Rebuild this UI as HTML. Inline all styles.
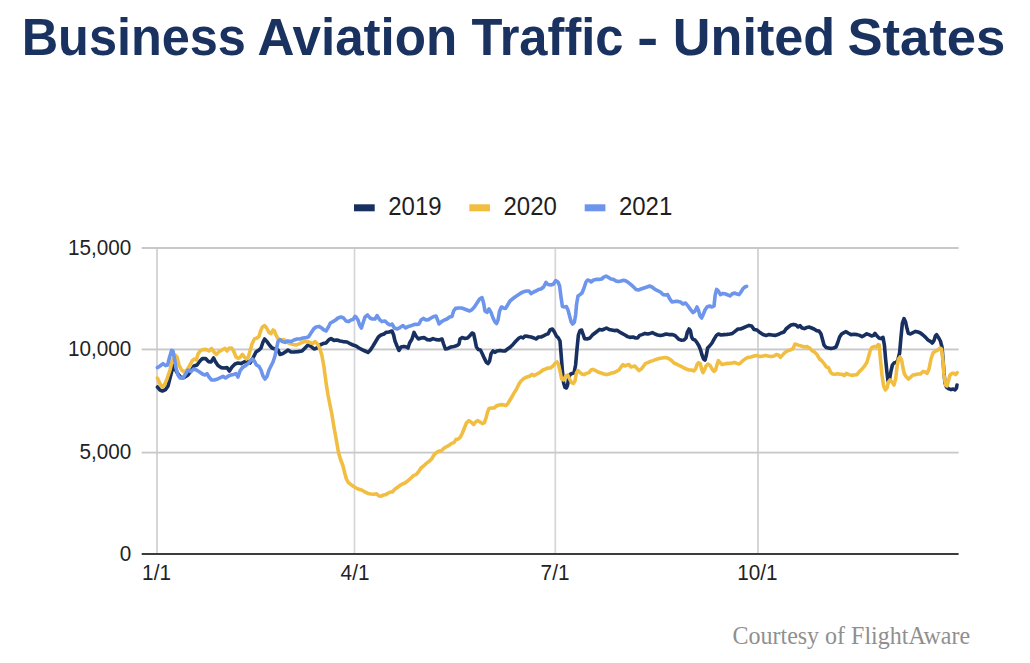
<!DOCTYPE html>
<html><head><meta charset="utf-8"><title>Business Aviation Traffic - United States</title>
<style>
html,body{margin:0;padding:0;background:#fff;}
body{width:1030px;height:663px;overflow:hidden;position:relative;font-family:"Liberation Sans",sans-serif;}
svg{position:absolute;left:0;top:0;}
text{font-family:"Liberation Sans",sans-serif;}
.title{font-weight:bold;font-size:50px;fill:#1a3260;}
.ax{font-size:20.7px;fill:#222;}
.lg{font-size:24px;fill:#1f1f1f;}
.cap{font-family:"Liberation Serif",serif;font-size:24px;fill:#8f8f8f;}
.ln{fill:none;stroke-width:3.6;stroke-linejoin:round;stroke-linecap:round;}
</style></head><body>
<svg width="1030" height="663" viewBox="0 0 1030 663">
<rect width="1030" height="663" fill="#fff"/>
<text class="title" transform="translate(21.67,54.7) scale(1.0088,1.0450)">Business</text>
<text class="title" transform="translate(257.47,54.7) scale(1.0230,1.0450)">Aviation</text>
<text class="title" transform="translate(471.49,54.7) scale(1.0135,1.0450)">Traffic</text>
<text class="title" transform="translate(637.04,54.7) scale(1.2800,1.0450)">-</text>
<text class="title" transform="translate(672.87,54.7) scale(1.0443,1.0450)">United</text>
<text class="title" transform="translate(847.42,54.7) scale(1.0526,1.0450)">States</text>
<!-- legend -->
<rect x="354" y="204.3" width="20.7" height="7" fill="#17305f"/>
<text class="lg" transform="translate(388.2,215.2) scale(1,1.04)">2019</text>
<rect x="469.3" y="204.3" width="20.7" height="7" fill="#f1be42"/>
<text class="lg" transform="translate(503.5,215.2) scale(1,1.04)">2020</text>
<rect x="584.7" y="204.3" width="20.7" height="7" fill="#6d95ec"/>
<text class="lg" transform="translate(618.9,215.2) scale(1,1.04)">2021</text>
<!-- grid -->
<g fill="#d6d6da">
<rect x="156" y="248" width="2" height="305"/>
<rect x="353.65" y="248" width="1.7" height="305"/>
<rect x="554.45" y="248" width="1.7" height="305"/>
<rect x="757" y="248" width="2" height="305"/>
</g>
<g fill="#c8c8c8">
<rect x="141.7" y="247" width="816.9" height="2"/>
<rect x="141.7" y="348.5" width="816.9" height="1.9"/>
<rect x="141.7" y="451.7" width="816.9" height="1.8"/>
</g>
<rect x="141.7" y="553" width="816.9" height="2" fill="#3c3c3c"/>
<!-- y labels -->
<g class="ax" text-anchor="end">
<text transform="translate(131.2,254.7) scale(1,1.045)">15,000</text>
<text transform="translate(131.2,356.3) scale(1,1.045)">10,000</text>
<text transform="translate(131.2,459.4) scale(1,1.045)">5,000</text>
<text transform="translate(131.2,560.5) scale(1,1.045)">0</text>
</g>
<g class="ax" text-anchor="middle">
<text transform="translate(156.5,580.4) scale(1,1.045)">1/1</text>
<text transform="translate(355,580.4) scale(1,1.045)">4/1</text>
<text transform="translate(555,580.4) scale(1,1.045)">7/1</text>
<text transform="translate(757.5,580.4) scale(1,1.045)">10/1</text>
</g>
<path class="ln" stroke="#17305f" d="M157.4,387.0 L160.0,390.0 L162.4,391.0 L165.6,389.6 L168.0,386.0 L170.0,378.0 L172.4,369.0 L173.2,365.6 L175.0,369.0 L178.0,374.0 L181.0,377.6 L184.0,377.6 L188.0,375.0 L191.0,371.0 L194.0,366.0 L197.0,365.0 L200.0,361.0 L202.4,358.6 L205.6,358.6 L208.4,361.6 L211.0,362.0 L213.6,358.0 L215.6,362.0 L218.0,365.6 L221.0,367.6 L224.0,368.0 L227.0,367.6 L229.4,371.0 L232.0,367.0 L235.0,364.0 L238.0,363.0 L241.0,363.6 L244.0,362.0 L247.0,361.0 L250.0,363.0 L253.0,358.0 L256.0,352.0 L259.0,350.0 L261.0,348.0 L263.0,342.0 L264.6,339.0 L267.0,341.6 L269.4,345.0 L272.0,348.0 L275.0,349.0 L278.0,350.0 L280.0,354.4 L283.0,353.6 L286.0,351.6 L288.0,350.0 L291.0,352.0 L294.0,352.0 L298.0,351.6 L302.0,351.0 L305.0,348.0 L308.0,345.0 L311.0,346.4 L314.0,349.0 L317.0,348.0 L320.0,345.0 L323.0,343.6 L326.0,343.0 L329.0,339.6 L331.0,338.6 L334.0,340.4 L337.0,340.0 L340.0,341.0 L343.0,341.6 L347.0,342.0 L350.0,343.6 L353.0,345.0 L356.0,346.0 L359.0,348.0 L362.0,349.6 L365.0,351.0 L368.0,352.4 L370.4,350.0 L373.0,346.0 L376.0,341.0 L378.4,337.0 L381.0,335.0 L384.0,334.0 L386.0,332.4 L389.0,332.0 L392.0,331.0 L393.6,335.0 L395.0,341.0 L397.0,346.0 L399.0,350.4 L401.0,347.0 L404.0,346.4 L406.4,347.0 L408.0,348.0 L409.6,343.0 L412.0,339.0 L414.0,332.4 L416.0,336.0 L418.4,339.0 L421.0,338.0 L424.0,337.6 L427.0,339.6 L430.0,340.0 L433.0,338.6 L436.0,339.6 L439.0,340.0 L442.0,339.0 L443.6,344.0 L445.4,349.0 L448.0,348.4 L451.0,347.0 L454.0,346.4 L457.0,345.6 L459.0,344.0 L460.0,339.0 L462.0,337.6 L465.0,338.4 L467.6,338.0 L470.0,335.6 L472.0,333.0 L473.6,333.6 L475.0,340.0 L476.4,347.0 L478.4,349.6 L480.4,350.0 L482.4,354.0 L484.4,358.4 L486.4,362.4 L488.0,363.6 L489.6,361.0 L491.0,354.0 L493.0,351.0 L495.0,352.4 L497.0,351.0 L500.0,350.4 L503.0,351.0 L505.0,351.0 L507.6,349.0 L510.4,347.0 L513.0,344.4 L516.0,341.0 L519.0,338.0 L521.0,337.0 L523.0,338.0 L525.0,336.0 L528.0,336.4 L531.0,337.0 L534.0,338.0 L536.0,339.0 L538.4,337.0 L541.0,337.0 L544.0,335.6 L547.0,334.0 L548.0,334.0 L550.0,330.0 L552.4,329.0 L554.4,332.0 L556.4,336.0 L558.4,338.0 L560.0,341.0 L561.0,353.0 L562.4,371.0 L563.6,383.0 L565.0,387.4 L566.4,388.0 L567.6,385.0 L568.6,378.0 L570.0,374.6 L572.0,373.4 L574.0,373.0 L575.6,365.0 L577.0,349.0 L578.4,335.0 L580.0,330.6 L581.6,330.0 L583.0,334.0 L584.6,338.6 L587.0,339.0 L590.0,338.0 L592.4,335.0 L595.0,333.0 L597.6,331.0 L599.6,329.4 L602.0,330.0 L604.4,329.0 L606.4,328.0 L609.0,329.4 L611.6,330.0 L614.4,330.6 L617.0,330.2 L619.6,332.0 L622.0,333.4 L625.0,335.0 L627.6,336.6 L630.0,337.4 L633.0,337.0 L635.6,338.0 L637.6,338.0 L639.6,335.4 L642.0,334.6 L645.0,333.4 L647.6,334.0 L650.0,333.4 L652.4,332.6 L655.0,334.0 L657.6,335.0 L660.4,335.6 L663.0,335.0 L666.0,334.0 L669.0,334.6 L672.0,334.6 L675.0,335.4 L677.0,337.4 L679.0,339.4 L681.6,340.2 L684.0,340.0 L686.0,338.0 L687.4,332.0 L689.0,329.0 L690.4,330.6 L691.6,337.0 L693.0,339.4 L695.0,340.0 L697.0,342.6 L699.0,346.0 L700.6,350.0 L702.0,355.0 L703.6,359.0 L705.0,360.0 L706.4,355.0 L707.6,348.0 L709.6,346.0 L712.0,343.0 L714.4,338.6 L716.4,335.4 L718.4,334.0 L721.0,335.0 L724.0,334.6 L727.0,334.4 L730.0,334.0 L732.4,333.4 L735.0,331.4 L738.0,329.0 L740.4,329.0 L743.0,328.0 L746.0,326.6 L749.0,325.4 L751.6,326.0 L754.0,329.4 L757.0,330.0 L760.0,332.6 L763.0,334.6 L766.0,335.4 L769.0,334.6 L772.0,335.0 L775.0,335.4 L778.0,334.6 L781.0,333.0 L784.0,332.0 L786.0,329.0 L788.4,327.0 L791.0,325.0 L793.6,324.4 L796.0,325.0 L798.0,327.0 L800.0,325.6 L802.0,328.0 L804.4,328.6 L807.0,327.4 L809.0,327.0 L811.6,328.0 L814.0,329.0 L816.4,330.6 L819.0,331.0 L821.0,334.0 L822.4,339.0 L824.0,345.0 L826.0,347.4 L828.4,348.0 L831.0,348.6 L833.6,348.0 L836.0,347.0 L837.6,343.0 L839.6,337.0 L841.6,334.0 L844.0,332.6 L846.0,331.6 L848.0,333.0 L851.0,334.6 L854.0,334.2 L857.0,334.6 L859.6,335.4 L862.0,336.6 L864.4,335.4 L866.4,333.8 L869.0,334.6 L871.6,336.0 L873.6,335.4 L875.0,333.4 L877.0,336.0 L879.0,338.0 L881.0,338.6 L883.0,337.4 L884.4,345.0 L885.6,359.0 L886.8,371.0 L888.0,381.0 L889.6,379.0 L891.0,371.0 L892.4,365.0 L894.0,363.0 L895.6,362.6 L897.6,361.0 L899.6,353.0 L901.0,337.0 L902.4,323.0 L904.0,318.6 L905.6,322.0 L907.0,328.6 L908.4,333.4 L910.4,334.0 L913.0,332.6 L915.6,331.4 L918.0,332.0 L920.4,333.0 L923.0,335.0 L925.6,337.4 L928.0,340.0 L930.4,341.4 L932.4,343.0 L934.0,340.6 L935.4,336.0 L936.6,334.6 L938.4,337.4 L940.4,341.0 L942.0,347.0 L943.0,359.0 L944.0,373.0 L945.0,383.0 L946.4,387.0 L948.4,388.6 L951.0,389.6 L953.2,389.0 L955.0,390.0 L956.4,388.2 L957.0,385.0"/>
<path class="ln" stroke="#f1be42" d="M157.4,378.0 L159.6,383.0 L162.0,387.0 L164.4,385.0 L167.0,379.0 L170.0,370.0 L172.4,360.0 L175.0,355.0 L177.0,357.0 L179.0,365.0 L181.6,370.0 L184.4,372.0 L187.0,370.0 L190.0,365.0 L192.4,360.4 L194.4,359.0 L196.4,360.0 L198.0,354.0 L200.4,350.6 L203.0,349.6 L206.0,349.4 L209.0,351.0 L211.6,348.4 L214.0,352.0 L216.4,354.4 L219.0,351.6 L222.0,350.0 L225.0,348.4 L227.0,351.0 L229.0,348.4 L231.6,348.0 L233.6,351.0 L236.0,357.0 L238.4,358.4 L240.4,357.0 L242.4,354.4 L244.4,357.0 L246.4,359.0 L248.4,357.0 L250.0,351.0 L252.0,344.0 L254.4,339.0 L257.0,338.0 L259.0,336.4 L260.6,331.0 L262.4,327.0 L264.6,325.6 L266.6,328.0 L269.0,332.4 L271.0,333.6 L273.0,330.0 L274.4,331.0 L276.0,335.0 L278.0,339.0 L281.0,340.0 L284.0,339.6 L287.0,342.0 L290.0,343.6 L293.0,344.4 L296.0,345.0 L299.0,344.0 L302.0,342.4 L305.0,341.6 L308.0,341.6 L311.0,343.0 L313.0,343.6 L315.0,341.6 L317.6,344.0 L320.0,349.0 L322.0,356.0 L324.0,367.0 L325.0,375.0 L326.4,385.0 L328.0,395.0 L330.0,405.0 L332.0,415.0 L333.6,425.0 L335.4,435.0 L337.0,444.0 L338.6,453.0 L340.4,459.0 L343.0,466.0 L345.0,474.0 L346.4,479.0 L348.4,482.6 L351.0,484.6 L354.4,487.0 L358.0,489.0 L361.6,490.0 L365.0,492.0 L368.0,493.4 L371.0,494.0 L374.0,494.2 L376.6,493.8 L379.0,496.0 L381.0,496.2 L383.6,495.0 L386.0,494.6 L388.4,493.0 L390.4,492.0 L392.4,492.0 L395.0,489.0 L397.6,487.4 L400.0,485.4 L402.4,484.0 L405.0,483.0 L408.0,480.6 L411.0,478.0 L413.6,475.4 L416.0,474.6 L418.4,472.0 L421.0,468.0 L423.6,466.0 L426.4,463.4 L429.0,461.4 L431.6,459.0 L434.0,455.0 L436.4,452.6 L439.0,451.0 L441.0,451.0 L443.6,448.6 L446.0,447.0 L449.0,445.4 L451.6,443.4 L454.0,442.6 L456.0,439.4 L458.4,439.0 L460.4,437.0 L462.4,433.0 L464.4,428.0 L466.4,423.0 L469.0,420.6 L471.0,422.0 L473.6,424.6 L475.6,422.0 L477.6,420.6 L480.0,422.0 L482.4,423.6 L484.4,422.6 L486.0,418.0 L487.6,412.0 L489.0,408.6 L491.6,408.0 L494.0,408.0 L496.4,406.0 L499.0,405.0 L501.6,404.6 L504.0,405.0 L506.0,405.4 L508.0,403.4 L510.0,400.0 L512.0,396.6 L514.0,393.0 L516.0,390.0 L517.0,388.0 L519.0,384.0 L521.0,381.0 L524.0,378.4 L527.0,377.0 L530.0,376.0 L532.0,374.4 L534.0,375.6 L537.0,374.0 L540.0,372.4 L543.0,370.0 L545.6,369.0 L548.0,368.0 L550.4,368.0 L553.0,366.0 L555.0,363.4 L557.0,362.0 L558.4,364.0 L560.0,371.0 L561.6,379.0 L563.6,380.0 L565.6,376.0 L567.6,375.0 L569.6,379.0 L571.6,382.6 L573.4,383.4 L575.0,381.0 L576.4,373.0 L578.0,370.6 L580.0,372.6 L582.0,374.0 L584.0,374.6 L586.4,373.4 L589.0,372.6 L591.0,370.0 L593.0,369.4 L595.6,370.6 L598.0,372.0 L601.0,373.0 L604.0,374.0 L606.4,374.6 L609.0,374.0 L611.6,373.0 L614.0,372.6 L616.4,371.4 L619.0,370.0 L621.0,367.0 L623.0,364.6 L625.0,366.0 L627.0,365.0 L629.0,364.6 L631.0,367.0 L633.0,366.6 L635.0,366.0 L637.0,368.6 L639.0,370.6 L641.6,368.6 L643.6,366.0 L645.6,363.4 L648.0,362.6 L650.4,361.4 L653.0,360.6 L656.0,359.4 L659.0,358.6 L662.0,358.0 L665.0,357.4 L667.6,358.0 L670.0,359.4 L672.0,361.0 L674.0,363.0 L676.4,364.0 L679.0,365.4 L681.6,366.6 L684.0,368.0 L686.4,369.0 L689.0,370.0 L691.6,370.0 L694.0,371.0 L695.6,369.0 L697.0,364.6 L698.6,362.6 L700.4,364.0 L701.6,369.0 L703.0,372.6 L704.4,370.0 L706.0,366.0 L708.0,364.0 L710.0,365.4 L712.0,369.0 L714.0,371.4 L715.6,370.0 L717.0,364.6 L718.4,360.6 L720.0,362.6 L722.0,364.6 L724.4,364.0 L727.0,363.4 L729.6,363.4 L732.0,363.0 L734.4,362.4 L737.0,363.4 L739.0,364.0 L741.0,362.6 L743.0,360.6 L745.6,358.6 L748.0,357.4 L751.0,357.0 L754.0,356.0 L757.0,355.4 L760.0,356.6 L763.0,356.0 L765.6,355.4 L768.0,356.0 L771.0,356.6 L774.0,356.0 L776.4,354.6 L778.4,355.0 L780.4,357.4 L783.0,354.6 L785.6,352.0 L788.0,350.6 L790.4,350.0 L793.0,348.6 L795.0,344.0 L797.0,344.6 L799.6,345.6 L802.0,346.2 L804.4,347.0 L807.0,346.6 L809.6,348.0 L812.0,350.6 L814.4,352.0 L817.0,354.6 L819.6,359.0 L822.0,361.0 L824.4,364.0 L826.4,367.0 L828.4,367.4 L830.4,372.0 L832.4,374.0 L835.0,374.2 L837.6,373.8 L840.0,374.2 L842.4,374.4 L844.4,375.6 L846.4,373.4 L849.0,374.6 L851.6,375.4 L854.0,375.0 L857.0,374.6 L859.0,372.0 L861.0,370.0 L863.0,368.0 L865.0,365.4 L867.0,362.0 L869.0,355.0 L870.4,350.0 L872.0,347.4 L874.0,346.6 L876.0,347.0 L878.0,344.6 L879.2,345.0 L880.4,359.0 L882.0,375.0 L883.6,386.0 L885.4,390.0 L887.0,388.0 L888.4,382.0 L890.0,380.0 L892.0,382.0 L894.0,385.0 L895.6,379.0 L897.0,367.0 L898.4,359.0 L900.0,357.0 L901.6,360.0 L903.0,368.0 L904.4,374.0 L906.4,377.0 L908.4,379.0 L910.4,377.4 L913.0,375.0 L915.6,374.6 L918.0,374.0 L920.4,374.0 L923.0,371.4 L925.0,372.0 L927.0,373.4 L929.0,369.0 L931.0,359.0 L933.0,353.0 L935.6,351.0 L938.0,350.0 L940.0,348.0 L941.6,349.0 L943.0,361.0 L944.0,375.0 L945.6,385.0 L947.0,386.0 L948.4,381.0 L950.0,375.0 L952.0,373.4 L954.0,373.4 L955.6,374.6 L957.2,372.6"/>
<path class="ln" stroke="#6d95ec" d="M157.4,367.6 L160.0,366.0 L163.0,363.6 L165.6,365.6 L167.6,365.0 L169.6,357.0 L171.6,350.4 L173.0,351.0 L174.4,358.0 L176.0,368.0 L178.0,375.0 L180.0,378.0 L183.0,378.0 L185.6,374.0 L188.0,370.0 L191.0,371.6 L193.6,369.0 L196.4,370.0 L199.6,372.0 L202.4,374.0 L205.0,375.0 L207.0,373.6 L209.0,377.0 L211.6,380.0 L214.4,380.0 L217.6,379.0 L220.4,377.6 L223.0,376.4 L225.6,378.0 L228.4,376.0 L231.0,375.0 L233.6,374.4 L236.0,373.6 L238.0,377.0 L240.0,371.0 L242.4,367.6 L245.0,366.0 L248.0,363.6 L250.0,361.0 L252.4,359.0 L254.4,361.0 L256.4,365.0 L259.0,366.4 L261.0,370.0 L263.0,376.0 L265.0,379.0 L267.0,376.4 L269.0,370.0 L271.0,366.0 L273.0,362.0 L275.0,356.0 L276.4,349.0 L278.0,341.6 L280.0,339.6 L282.4,341.6 L285.0,342.4 L288.0,341.0 L291.0,341.6 L294.0,340.0 L297.0,339.0 L300.0,339.0 L303.0,338.0 L306.0,337.6 L308.4,337.0 L311.0,333.0 L313.6,329.0 L316.0,327.0 L319.0,326.4 L321.6,328.0 L324.0,330.0 L326.0,331.0 L328.4,327.0 L330.4,323.0 L333.0,321.6 L335.6,320.0 L338.0,318.0 L341.0,317.0 L343.6,318.0 L346.0,321.0 L348.4,321.6 L351.0,320.0 L353.0,319.6 L355.0,316.4 L356.0,317.0 L358.0,320.0 L359.6,325.0 L361.4,328.0 L363.0,323.0 L365.0,317.0 L367.6,315.0 L370.0,318.0 L372.4,319.0 L375.0,319.0 L377.0,315.6 L379.6,319.6 L382.0,321.6 L385.0,321.0 L387.6,323.6 L390.0,325.0 L392.0,324.0 L394.4,328.0 L397.0,329.0 L400.0,327.6 L403.0,325.6 L405.6,328.0 L408.4,326.4 L411.6,325.6 L414.4,324.4 L417.0,324.4 L419.0,324.0 L421.0,320.0 L423.6,318.4 L426.0,320.0 L428.4,319.6 L431.0,318.0 L434.0,316.4 L436.0,316.0 L437.6,320.0 L439.0,324.0 L441.6,321.6 L444.4,320.0 L447.0,319.0 L449.6,317.0 L452.0,316.4 L453.6,311.0 L455.6,308.4 L458.4,308.0 L461.6,308.0 L464.4,309.0 L467.0,310.0 L469.6,311.0 L472.0,309.6 L474.4,307.0 L477.0,303.0 L479.6,299.0 L482.0,297.6 L483.6,303.0 L485.0,311.0 L487.0,312.4 L489.0,309.0 L491.0,312.4 L493.0,318.0 L495.0,322.0 L496.6,323.6 L498.0,320.0 L499.6,311.0 L501.4,307.0 L503.6,308.0 L505.6,308.4 L507.6,305.0 L510.0,301.0 L512.4,299.0 L515.0,297.0 L518.0,295.0 L521.0,293.0 L524.0,291.6 L527.0,291.0 L529.0,291.0 L531.0,293.6 L533.6,292.0 L536.0,291.0 L538.4,289.6 L541.0,289.0 L543.6,287.0 L546.0,282.4 L548.0,284.4 L551.0,285.0 L553.6,284.0 L555.6,280.6 L558.0,282.0 L559.6,286.0 L561.0,297.0 L562.4,306.6 L564.4,307.0 L566.4,306.6 L568.0,310.0 L569.6,316.0 L571.2,322.0 L572.6,324.0 L574.4,322.0 L575.6,315.0 L576.6,304.0 L578.0,296.0 L580.0,294.6 L582.0,293.0 L584.0,288.0 L586.0,282.0 L587.6,280.0 L589.6,280.6 L591.0,282.0 L593.6,280.0 L596.0,279.4 L599.0,279.4 L601.6,279.0 L604.0,277.0 L606.0,276.0 L608.4,277.4 L611.0,279.0 L613.6,279.4 L616.0,281.0 L618.4,281.6 L621.0,281.0 L623.6,280.2 L626.0,281.0 L628.4,282.6 L631.0,284.6 L633.6,287.0 L636.0,289.4 L638.4,290.0 L641.0,289.0 L644.0,288.0 L647.0,287.0 L649.6,286.0 L652.0,287.0 L655.0,289.4 L657.6,290.6 L660.4,292.0 L663.0,294.6 L665.6,295.0 L667.6,294.6 L669.6,298.6 L672.0,302.0 L675.0,301.4 L678.0,301.4 L680.4,302.0 L683.0,304.0 L685.6,303.0 L688.0,306.0 L690.4,309.4 L693.0,312.6 L695.0,311.0 L697.0,307.0 L698.4,310.0 L700.0,316.0 L701.6,318.0 L703.0,315.0 L705.0,310.0 L707.0,307.0 L709.6,306.0 L712.0,307.0 L714.0,306.0 L715.2,295.0 L716.6,289.4 L718.4,291.0 L720.4,294.6 L723.0,293.4 L725.6,294.0 L728.0,295.0 L730.0,296.0 L732.0,294.0 L734.4,293.0 L737.0,294.0 L739.0,294.6 L741.0,292.0 L743.0,288.6 L745.0,287.0 L746.6,286.4"/>
<text class="cap" transform="translate(732.5,644.2) scale(1,1.06)">Courtesy of FlightAware</text>
</svg>
</body></html>
